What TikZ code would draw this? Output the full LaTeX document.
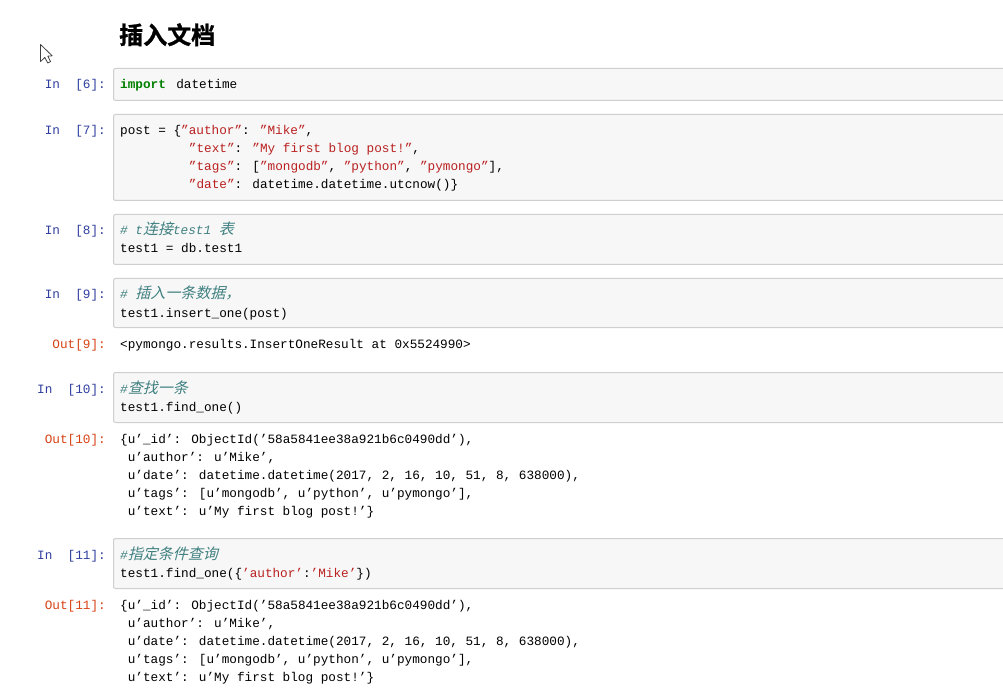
\documentclass[tikz,border=0pt]{standalone}
\usepackage{fontspec}
\setmainfont{Liberation Mono}
\newfontfamily\titlef[BoldFont={Noto Sans CJK SC Bold},BoldFeatures={FakeBold=1.2}]{Noto Sans CJK SC}
\newfontfamily\cjkit[FakeSlant=0.25]{Noto Sans CJK SC}
\definecolor{cellfill}{HTML}{F7F7F7}
\definecolor{cellline}{HTML}{CFCFCF}
\definecolor{inblue}{HTML}{303F9F}
\definecolor{outred}{HTML}{D84315}
\definecolor{cmt}{HTML}{408080}
\definecolor{kw}{HTML}{008000}
\definecolor{strc}{HTML}{BA2121}
\newcommand{\st}[1]{\textcolor{strc}{#1}}
\newcommand{\cm}[1]{\textcolor{cmt}{\itshape #1}}
\newcommand{\zh}[1]{{\cjkit\fontsize{15}{15}\selectfont #1}}
\tikzset{
  cellbox/.style={draw=cellline,fill=cellfill,line width=1pt,rounded corners=2pt},
  codeline/.style={anchor=base west,inner sep=0pt,text=black,font=\fontsize{12.7}{14}\selectfont},
  inprompt/.style={anchor=base east,inner sep=0pt,text=inblue,font=\fontsize{12.7}{14}\selectfont},
  outprompt/.style={anchor=base east,inner sep=0pt,text=outred,font=\fontsize{12.7}{14}\selectfont},
}
\begin{document}
\begin{tikzpicture}[x=1pt,y=-1pt]
\useasboundingbox (0,0) rectangle (1003,700);
\fill[white] (0,0) rectangle (1003,700);
\clip (0,0) rectangle (1003,700);

\node[anchor=base west,inner sep=0pt,font=\titlef\bfseries\fontsize{24}{24}\selectfont] (title) at (119,44) {插入文档};

% mouse cursor
\draw[fill=white,draw=black!75,line width=.8pt,line join=round]
  (40.5,44.5) -- (40.5,61.5) -- (44.8,57.5) -- (47.8,63) -- (50.6,61.6) -- (47.8,56.2) -- (52.2,55.8) -- cycle;

% cell boxes
\draw[cellbox] (113.5,68.5) rectangle (1012,100.5);
\draw[cellbox] (113.5,114.5) rectangle (1012,200.5);
\draw[cellbox] (113.5,214.5) rectangle (1012,264.5);
\draw[cellbox] (113.5,278.5) rectangle (1012,327.5);
\draw[cellbox] (113.5,372.5) rectangle (1012,422.5);
\draw[cellbox] (113.5,538.5) rectangle (1012,588.5);

% In [6]
\node[inprompt] (p6) at (106,89) {In\ \ [6]:};
\node[codeline] (c6) at (120,89) {\textcolor{kw}{\bfseries import}\hspace{2.8pt} datetime};

% In [7]
\node[inprompt] (p7) at (106,135) {In\ \ [7]:};
\node[codeline] (c7a) at (120,135) {post = \{\st{"author"}: \st{"Mike"},};
\node[codeline] (c7b) at (188.7,153) {\st{"text"}: \st{"My first blog post!"},};
\node[codeline] (c7c) at (188.7,171) {\st{"tags"}: [\st{"mongodb"}, \st{"python"}, \st{"pymongo"}],};
\node[codeline] (c7d) at (188.7,189) {\st{"date"}: datetime.datetime.utcnow()\}};

% In [8]
\node[inprompt] (p8) at (106,235) {In\ \ [8]:};
\node[codeline] (c8a) at (120,235) {\cm{\# t\zh{连接}test1 \zh{表}}};
\node[codeline] (c8b) at (120,253) {test1 = db.test1};

% In [9]
\node[inprompt] (p9) at (106,299) {In\ \ [9]:};
\node[codeline] (c9a) at (120,299) {\cm{\# \zh{插入一条数据，}}};
\node[codeline] (c9b) at (120,317) {test1.insert\_one(post)};
\node[outprompt] (o9) at (106,348) {Out[9]:};
\node[codeline] (r9) at (120,348) {<pymongo.results.InsertOneResult at 0x5524990>};

% In [10]
\node[inprompt] (p10) at (106,393) {In\ \ [10]:};
\node[codeline] (c10a) at (120,393) {\cm{\#\zh{查找一条}}};
\node[codeline] (c10b) at (120,411) {test1.find\_one()};
\node[outprompt] (o10) at (106,443) {Out[10]:};
\node[codeline] (r10a) at (120,443) {\{u'\_id': ObjectId('58a5841ee38a921b6c0490dd'),};
\node[codeline] (r10b) at (127.6,461) {u'author': u'Mike',};
\node[codeline] (r10c) at (127.6,479) {u'date': datetime.datetime(2017, 2, 16, 10, 51, 8, 638000),};
\node[codeline] (r10d) at (127.6,497) {u'tags': [u'mongodb', u'python', u'pymongo'],};
\node[codeline] (r10e) at (127.6,515) {u'text': u'My first blog post!'\}};

% In [11]
\node[inprompt] (p11) at (106,559) {In\ \ [11]:};
\node[codeline] (c11a) at (120,559) {\cm{\#\zh{指定条件查询}}};
\node[codeline] (c11b) at (120,577) {test1.find\_one(\{\st{'author'}:\st{'Mike'}\})};
\node[outprompt] (o11) at (106,609) {Out[11]:};
\node[codeline] (r11a) at (120,609) {\{u'\_id': ObjectId('58a5841ee38a921b6c0490dd'),};
\node[codeline] (r11b) at (127.6,627) {u'author': u'Mike',};
\node[codeline] (r11c) at (127.6,645) {u'date': datetime.datetime(2017, 2, 16, 10, 51, 8, 638000),};
\node[codeline] (r11d) at (127.6,663) {u'tags': [u'mongodb', u'python', u'pymongo'],};
\node[codeline] (r11e) at (127.6,681) {u'text': u'My first blog post!'\}};
\end{tikzpicture}
\end{document}
